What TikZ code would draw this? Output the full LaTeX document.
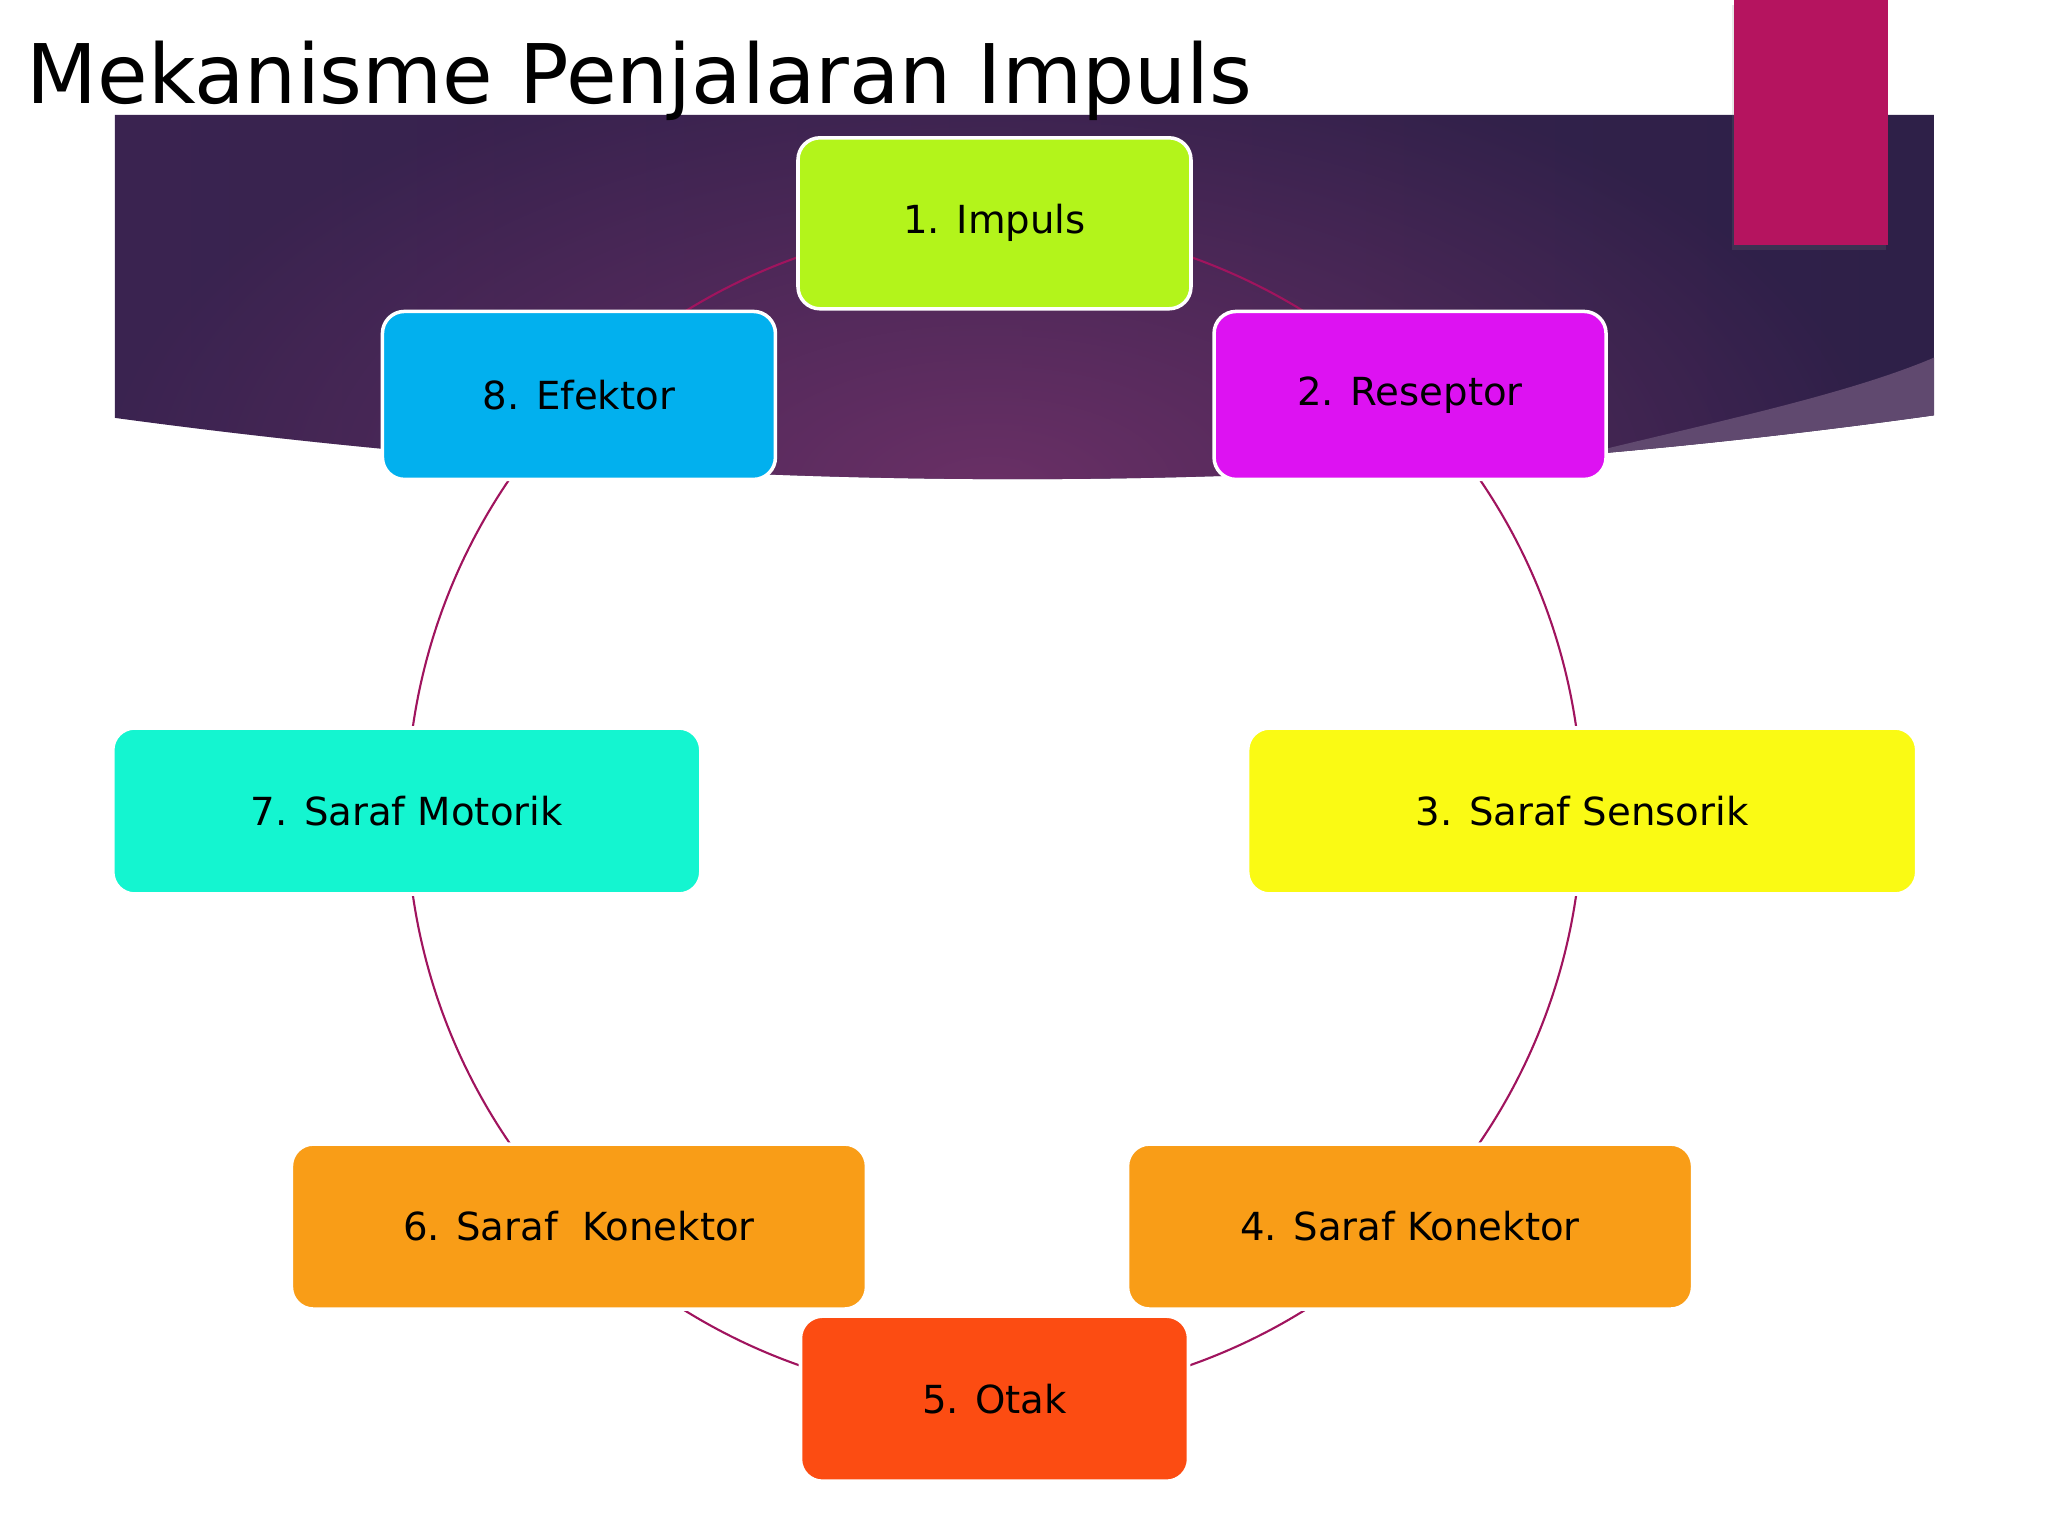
\documentclass[tikz,border=0pt]{standalone}
\usepackage{fontspec}
\setmainfont{DejaVu Sans}
\usepackage{xcolor}
\usepackage{tikz}
\usetikzlibrary{shadows, fadings}

\definecolor{cLime}{HTML}{B3F41B}
\definecolor{cMagenta}{HTML}{DD12F2}
\definecolor{cYellow}{HTML}{FAFA14}
\definecolor{cOrange}{HTML}{F99D17}
\definecolor{cRed}{HTML}{FC4C12}
\definecolor{cCyan}{HTML}{14F5D0}
\definecolor{cBlue}{HTML}{02B0EE}
\definecolor{cRose}{HTML}{B5145F}
\definecolor{cArc}{HTML}{A0145E}
\definecolor{bannerL}{HTML}{3A2350}
\definecolor{bannerM}{HTML}{52295B}
\definecolor{bannerR}{HTML}{2E2048}
\definecolor{bannerGlow}{HTML}{6A3066}
\definecolor{bannerBand}{HTML}{60496F}

\tikzfading[name=softglow, inner color=transparent!0, outer color=transparent!100]

\pgfdeclarelayer{bg}
\pgfdeclarelayer{links}
\pgfsetlayers{bg,links,main}

\begin{document}
\begin{tikzpicture}[
    stage/.style={rectangle, rounded corners=0.22cm, draw=white, line width=1pt, minimum height=1.68cm, font=\fontsize{11}{13}\selectfont, text=black},
    link/.style={draw=cArc, line width=0.6pt}
]
\useasboundingbox (0,0) rectangle (20.48,-15.36);

% purple banner
\begin{pgfonlayer}{bg}
\begin{scope}
\clip (1.149,-1.149) -- (19.342,-1.149) -- (19.342,-4.153) .. controls (13.28,-5.0) and (7.21,-5.0) .. (1.149,-4.179) -- cycle;
\shade[left color=bannerL, middle color=bannerM, right color=bannerR] (1.149,-1.149) rectangle (19.342,-5.0);
\fill[bannerGlow, path fading=softglow] (9.9,-4.9) ellipse (9.0 and 4.6);
\fill[bannerBand] (15.6,-4.6) .. controls (17.0,-4.25) and (18.5,-3.95) .. (19.4,-3.55) -- (19.4,-5.2) -- (15.6,-5.2) -- cycle;
\end{scope}
\end{pgfonlayer}

\fill[cRose, drop shadow={opacity=0.18, shadow xshift=-0.02cm, shadow yshift=-0.05cm}] (17.34,0) rectangle (18.88,-2.45);

\node[anchor=base west, font=\fontsize{23.4}{28}\selectfont, inner sep=0] (title) at (0.26,-1.04) {Mekanisme Penjalaran Impuls};

\begin{scope}[shift={(9.945,-8.11)}]
\node[stage, fill=cLime, minimum width=3.93cm, minimum height=1.71cm] (n1) at (90:5.877) {1. Impuls};
\node[stage, fill=cMagenta, minimum width=3.92cm] (n2) at (45:5.877) {2. Reseptor};
\node[stage, fill=cYellow, minimum width=6.69cm, minimum height=1.66cm] (n3) at (0:5.877) {3. Saraf Sensorik};
\node[stage, fill=cOrange, minimum width=5.65cm, minimum height=1.65cm] (n4) at (-45:5.877) {4. Saraf Konektor};
\node[stage, fill=cRed, minimum width=3.88cm, minimum height=1.65cm] (n5) at (-90:5.877) {5. Otak};
\node[stage, fill=cOrange, minimum width=5.75cm, minimum height=1.65cm] (n6) at (-135:5.877) {6. Saraf\ \ Konektor};
\node[stage, fill=cCyan, minimum width=5.88cm, minimum height=1.66cm] (n7) at (180:5.877) {7. Saraf Motorik};
\node[stage, fill=cBlue, minimum width=3.93cm] (n8) at (135:5.877) {8. Efektor};
\end{scope}

% cycle
\begin{pgfonlayer}{links}
\foreach \a [count=\i] in {90,45,0,-45,-90,-135,180,135}
  \draw[link] (n\i.center) arc[start angle=\a, delta angle=-45, radius=5.877];
\end{pgfonlayer}
\end{tikzpicture}
\end{document}
